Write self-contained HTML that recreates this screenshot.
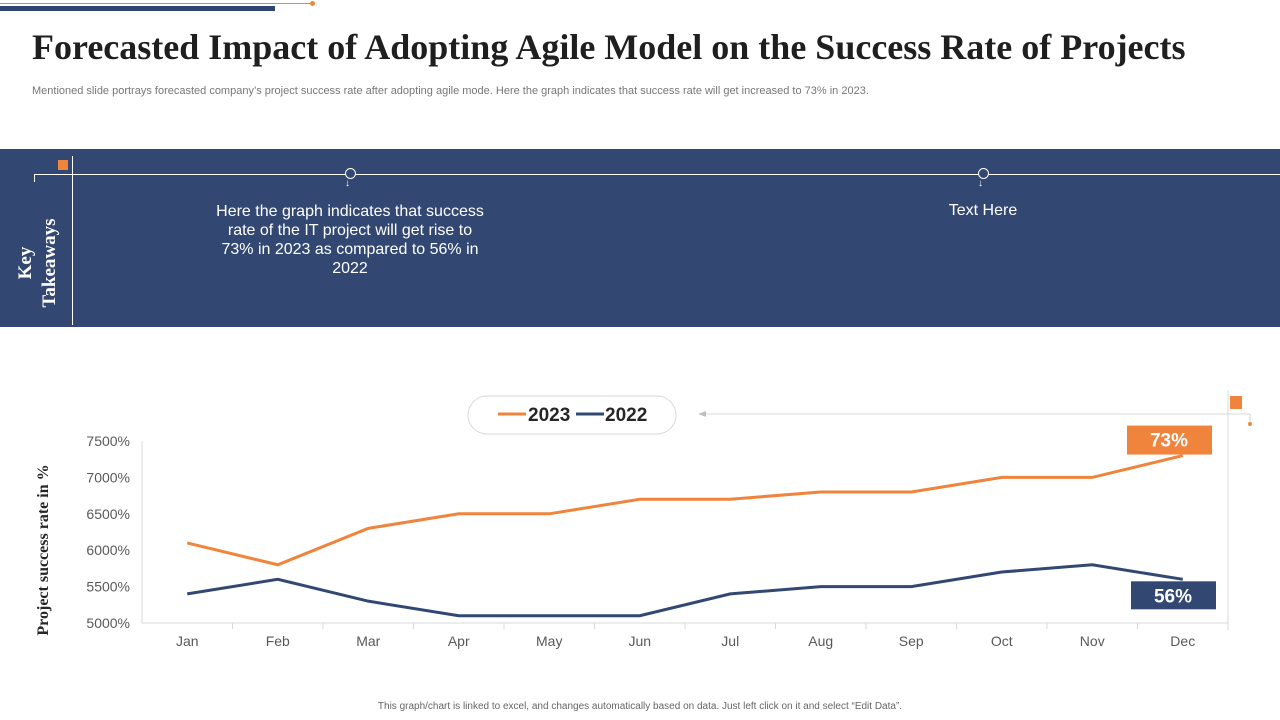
<!DOCTYPE html>
<html><head><meta charset="utf-8"><style>
body{margin:0;width:1280px;height:720px;background:#fff;font-family:"Liberation Sans",sans-serif;position:relative;overflow:hidden}
.abs{position:absolute}
</style></head><body>
<div class="abs" style="left:0;top:6px;width:275px;height:5px;background:#2f4470"></div>
<div class="abs" style="left:0;top:3px;width:312px;height:1px;background:#f0843c"></div>
<div class="abs" style="left:310px;top:1px;width:5px;height:5px;border-radius:50%;background:#f0843c"></div>
<div class="abs" style="left:32px;top:26px;font-family:'Liberation Serif',serif;font-weight:bold;font-size:36px;color:#1f1f1f">Forecasted Impact of Adopting Agile Model on the Success Rate of Projects</div>
<div class="abs" style="left:32px;top:85px;font-size:11px;color:#777">Mentioned slide portrays forecasted company’s project success rate after adopting agile mode. Here the graph indicates that success rate will get increased to 73% in 2023.</div>
<div class="abs" style="left:0;top:149px;width:1280px;height:178px;background:#324872">
  <div class="abs" style="left:72px;top:7px;width:1px;height:169px;background:#fff"></div>
  <div class="abs" style="left:58px;top:11px;width:10px;height:10px;background:#f0843c"></div>
  <div class="abs" style="left:34px;top:25px;width:1246px;height:1px;background:#fff"></div>
  <div class="abs" style="left:34px;top:25px;width:1px;height:8px;background:#fff"></div>
  <div class="abs" style="left:345px;top:19px;width:9px;height:9px;border:1px solid #fff;border-radius:50%;background:#324872"></div>
  <div class="abs" style="left:345px;top:29px;color:#fff;font-size:10px">↓</div>
  <div class="abs" style="left:978px;top:19px;width:9px;height:9px;border:1px solid #fff;border-radius:50%;background:#324872"></div>
  <div class="abs" style="left:978px;top:29px;color:#fff;font-size:10px">↓</div>
  <div class="abs" style="left:-42px;top:90px;width:160px;transform:rotate(-90deg);text-align:center;color:#fff;font-family:'Liberation Serif',serif;font-weight:bold;font-size:19px;line-height:24px">Key<br>Takeaways</div>
  <div class="abs" style="left:210px;top:53px;width:280px;text-align:center;color:#fff;font-size:16px;line-height:19px">Here the graph indicates that success rate of the IT project will get rise to 73% in 2023 as compared to 56% in 2022</div>
  <div class="abs" style="left:883px;top:53px;width:200px;text-align:center;color:#fff;font-size:16px">Text Here</div>
</div>
<svg class="abs" style="left:0;top:0" width="1280" height="720" id="chart"></svg>
<div class="abs" style="left:0;width:1280px;top:701px;text-align:center;font-size:10px;color:#666">This graph/chart is linked to excel, and changes automatically based on data. Just left click on it and select “Edit Data”.</div>
<script>
const categories=["Jan","Feb","Mar","Apr","May","Jun","Jul","Aug","Sep","Oct","Nov","Dec"];
const s2023=[6100,5800,6300,6500,6500,6700,6700,6800,6800,7000,7000,7300];
const s2022=[5400,5600,5300,5100,5100,5100,5400,5500,5500,5700,5800,5600];
const ticks=[5000,5500,6000,6500,7000,7500];
const label2023="73%", label2022="56%";
const svg=document.getElementById('chart');const NS="http://www.w3.org/2000/svg";
function mk(t,a,p){const e=document.createElementNS(NS,t);for(const k in a)e.setAttribute(k,a[k]);(p||svg).appendChild(e);return e;}
const x0=142,x1=1228,yTop=441,yBot=623;
const bw=(x1-x0)/categories.length;
const X=i=>x0+bw*(i+0.5);
const Y=v=>yBot-(v-5000)/2500*(yBot-yTop);
mk('line',{x1:x0,y1:yTop,x2:x0,y2:yBot,stroke:'#d9d9d9'});
mk('line',{x1:x1,y1:390,x2:x1,y2:630,stroke:'#d9d9d9'});
mk('line',{x1:x0,y1:yBot,x2:x1,y2:yBot,stroke:'#d9d9d9'});
ticks.forEach(t=>{const e=mk('text',{x:130,y:Y(t)+5,'text-anchor':'end','font-size':14,fill:'#595959'});e.textContent=t+'%';
});
categories.forEach((c,i)=>{mk('line',{x1:x0+bw*(i+1),y1:yBot,x2:x0+bw*(i+1),y2:yBot+6,stroke:'#d9d9d9'});
const e=mk('text',{x:X(i),y:646,'text-anchor':'middle','font-size':14,fill:'#595959'});e.textContent=c;
});
const yt=mk('text',{x:48,y:550,transform:'rotate(-90 48 550)','text-anchor':'middle','font-family':'Liberation Serif,serif','font-weight':'bold','font-size':16,fill:'#262626'});yt.textContent='Project success rate in %';

function line(d,col,name){const p=mk('polyline',{points:d.map((v,i)=>X(i)+','+Y(v)).join(' '),fill:'none',stroke:col,'stroke-width':3});
}
line(s2023,'#f0843c','line-2023');line(s2022,'#324872','line-2022');
// labels
const n=categories.length-1;
let r=mk('rect',{x:1127,y:Y(s2023[n])-30,width:85,height:29,fill:'#f0843c'});
let t=mk('text',{x:1169,y:Y(s2023[n])-9,'text-anchor':'middle','font-size':19,'font-weight':'bold',fill:'#fff'});t.textContent=label2023;
r=mk('rect',{x:1131,y:Y(s2022[n])+2,width:85,height:28,fill:'#324872'});
t=mk('text',{x:1173,y:Y(s2022[n])+23,'text-anchor':'middle','font-size':19,'font-weight':'bold',fill:'#fff'});t.textContent=label2022;
// legend
const lg=mk('rect',{x:468,y:396,width:208,height:38,rx:19,fill:'#fff',stroke:'#d9d9d9'});
mk('line',{x1:498,y1:414,x2:526,y2:414,stroke:'#f0843c','stroke-width':3});
t=mk('text',{x:528,y:421,'font-size':19,'font-weight':'bold',fill:'#262626'});t.textContent='2023';
mk('line',{x1:576,y1:414,x2:604,y2:414,stroke:'#324872','stroke-width':3});
t=mk('text',{x:605,y:421,'font-size':19,'font-weight':'bold',fill:'#262626'});t.textContent='2022';
mk('line',{x1:700,y1:414,x2:1250,y2:414,stroke:'#d9d9d9'});
mk('path',{d:'M698 414 L706 411 L706 417 Z',fill:'#bfbfbf'});
mk('line',{x1:1250,y1:414,x2:1250,y2:424,stroke:'#d9d9d9'});
mk('circle',{cx:1250,cy:424,r:2,fill:'#f0843c'});
mk('rect',{x:1230,y:396,width:12,height:13,fill:'#f0843c'});
</script>
</body></html>
